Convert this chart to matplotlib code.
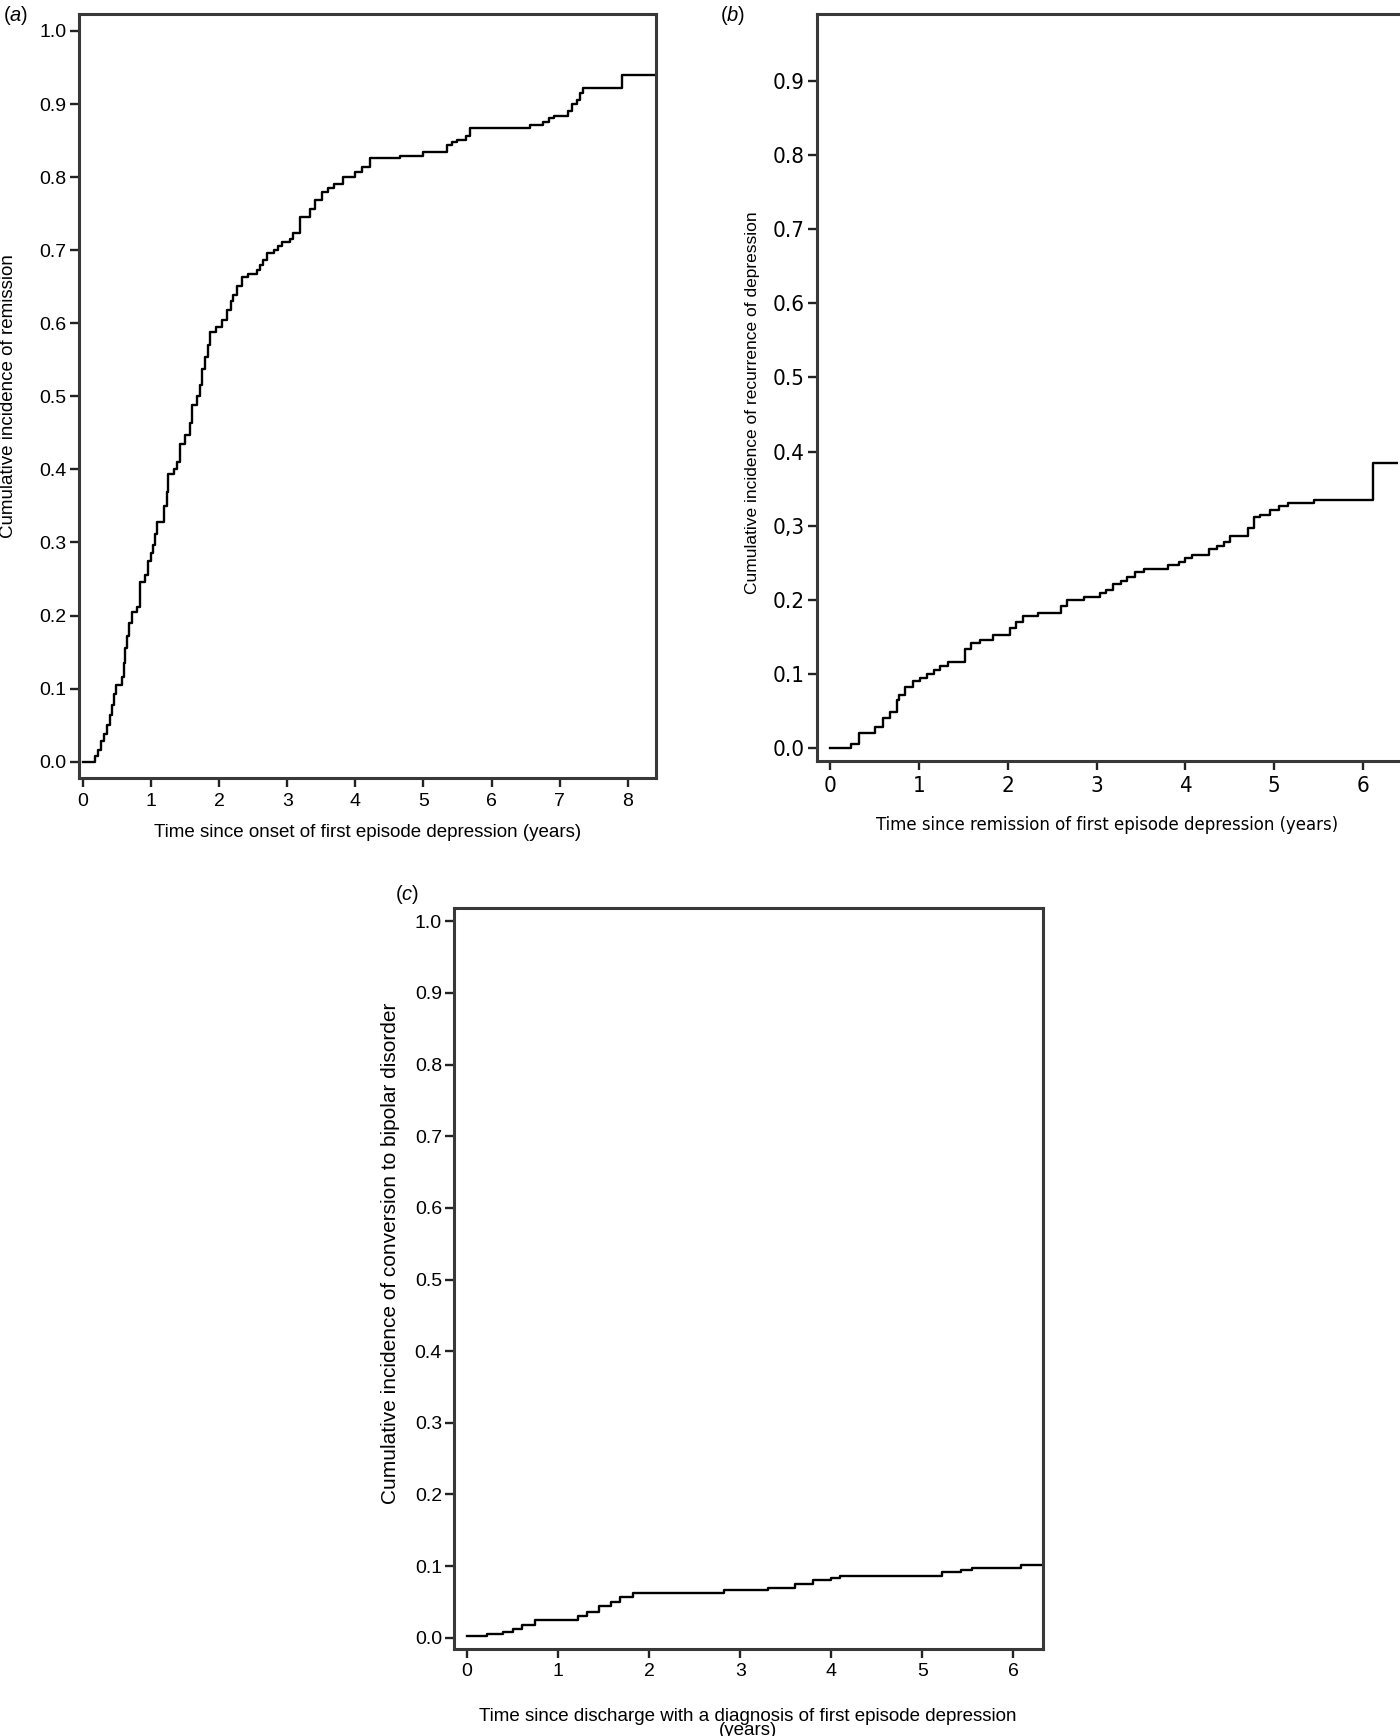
import matplotlib
matplotlib.use('Agg')
import matplotlib.pyplot as plt
from matplotlib import font_manager
from matplotlib.font_manager import FontProperties

# ── Panel (a): remission ──
a_time = [0.00, 0.17, 0.22, 0.27, 0.31, 0.35, 0.39, 0.42, 0.46, 0.49, 0.57, 0.60,
          0.62, 0.65, 0.67, 0.72, 0.79, 0.84, 0.91, 0.96, 1.00, 1.03, 1.06, 1.08,
          1.19, 1.23, 1.25, 1.33, 1.38, 1.42, 1.50, 1.57, 1.60, 1.67, 1.72, 1.75,
          1.79, 1.84, 1.86, 1.96, 2.04, 2.11, 2.17, 2.21, 2.26, 2.33, 2.43, 2.55,
          2.60, 2.65, 2.70, 2.80, 2.86, 2.92, 3.04, 3.09, 3.19, 3.33, 3.41, 3.51,
          3.60, 3.68, 3.82, 4.00, 4.10, 4.22, 4.66, 5.00, 5.34, 5.42, 5.49, 5.62,
          5.69, 6.57, 6.76, 6.84, 6.92, 7.12, 7.18, 7.25, 7.30, 7.35, 7.92, 8.45]
a_value = [0.000, 0.008, 0.016, 0.028, 0.038, 0.050, 0.064, 0.078, 0.092, 0.105, 0.116, 0.135,
           0.155, 0.172, 0.190, 0.205, 0.212, 0.246, 0.255, 0.274, 0.285, 0.297, 0.312, 0.328,
           0.350, 0.369, 0.394, 0.400, 0.410, 0.435, 0.447, 0.463, 0.488, 0.500, 0.515, 0.537,
           0.554, 0.570, 0.588, 0.595, 0.605, 0.618, 0.630, 0.638, 0.651, 0.663, 0.668, 0.673,
           0.680, 0.687, 0.696, 0.700, 0.706, 0.711, 0.715, 0.724, 0.746, 0.757, 0.769, 0.780,
           0.785, 0.790, 0.800, 0.807, 0.814, 0.826, 0.829, 0.834, 0.844, 0.848, 0.851, 0.856,
           0.867, 0.872, 0.876, 0.881, 0.884, 0.890, 0.900, 0.905, 0.915, 0.922, 0.940, 0.940]

# ── Panel (b): recurrence ──
b_time = [0.00, 0.24, 0.33, 0.50, 0.59, 0.68, 0.75, 0.78, 0.84, 0.93, 1.01, 1.09,
          1.17, 1.24, 1.33, 1.52, 1.59, 1.69, 1.83, 2.02, 2.09, 2.17, 2.34, 2.60,
          2.67, 2.86, 3.04, 3.11, 3.19, 3.27, 3.34, 3.43, 3.53, 3.80, 3.93, 3.99,
          4.07, 4.26, 4.35, 4.43, 4.50, 4.70, 4.77, 4.84, 4.95, 5.05, 5.15, 5.45,
          6.11, 6.45]
b_value = [0.000, 0.005, 0.020, 0.028, 0.041, 0.049, 0.065, 0.071, 0.082, 0.090, 0.095, 0.100,
           0.105, 0.111, 0.116, 0.133, 0.141, 0.145, 0.153, 0.162, 0.170, 0.178, 0.182, 0.191,
           0.200, 0.204, 0.209, 0.213, 0.221, 0.225, 0.230, 0.237, 0.242, 0.247, 0.251, 0.256,
           0.260, 0.268, 0.273, 0.278, 0.286, 0.297, 0.311, 0.315, 0.321, 0.326, 0.330, 0.335,
           0.385, 0.385]

# ── Panel (c): conversion to bipolar ──
c_time = [0.00, 0.22, 0.40, 0.50, 0.60, 0.75, 1.22, 1.32, 1.45, 1.58, 1.68, 1.82,
          2.82, 3.30, 3.60, 3.80, 4.00, 4.10, 5.22, 5.42, 5.55, 6.08, 6.35]
c_value = [0.003, 0.005, 0.008, 0.012, 0.018, 0.025, 0.030, 0.036, 0.044, 0.050, 0.057, 0.063,
           0.066, 0.070, 0.075, 0.080, 0.083, 0.086, 0.092, 0.095, 0.098, 0.102, 0.102]

a_yticks = [0.0, 0.1, 0.2, 0.3, 0.4, 0.5, 0.6, 0.7, 0.8, 0.9, 1.0]
a_ytick_labels = ['0.0', '0.1', '0.2', '0.3', '0.4', '0.5', '0.6', '0.7', '0.8', '0.9', '1.0']
b_yticks = [0.0, 0.1, 0.2, 0.3, 0.4, 0.5, 0.6, 0.7, 0.8, 0.9]
b_ytick_labels = ['0.0', '0.1', '0.2', '0,3', '0.4', '0.5', '0.6', '0.7', '0.8', '0.9']
a_xticks = [0, 1, 2, 3, 4, 5, 6, 7, 8]
bc_xticks = [0, 1, 2, 3, 4, 5, 6]

SANS = 'Liberation Sans'

# panel (b) uses a narrow face in the original; take one if the system has it
narrow_path = None
for f in font_manager.fontManager.ttflist:
    fn = f.fname.lower()
    if ('narrow' in fn or 'condensed' in fn) and 'bold' not in fn and 'oblique' not in fn \
            and 'italic' not in fn and 'mono' not in fn and 'serif' not in fn:
        if narrow_path is None or 'liberation' in fn:
            narrow_path = f.fname


def narrow_fp(size):
    if narrow_path:
        return FontProperties(fname=narrow_path, size=size)
    return FontProperties(family=SANS, size=size)


plt.rcParams.update({
    'font.family': [SANS, 'DejaVu Sans'],
    'mathtext.fontset': 'custom',
    'mathtext.rm': SANS,
    'mathtext.it': SANS + ':italic',
})

SPINE = '#383838'
TICK_FS = 14
LABEL_FS = 13.5

fig = plt.figure(figsize=(14, 17.36), dpi=100)

# axes rectangles in figure fractions
ax_a = fig.add_axes([0.0561, 0.5517, 0.4127, 0.4400])
ax_b = fig.add_axes([0.5834, 0.5615, 0.4150, 0.4302])
ax_c = fig.add_axes([0.3241, 0.0504, 0.4206, 0.4266])


def style(ax, narrow=False):
    for s in ax.spines.values():
        s.set_color(SPINE)
        s.set_linewidth(2.2)
    ax.tick_params(direction='out', length=6.5, width=1.7, color='#222222',
                   labelsize=TICK_FS, pad=2)
    ax.tick_params(axis='x', pad=4)
    if narrow:
        for lab in ax.get_xticklabels() + ax.get_yticklabels():
            lab.set_fontproperties(narrow_fp(TICK_FS + 2))


# (a)
ax_a.step(a_time, a_value, where='post', color='black', linewidth=1.7)
ax_a.set_xlim(-0.065, 8.42)
ax_a.set_ylim(-0.0227, 1.0227)
ax_a.set_xticks(a_xticks)
ax_a.set_yticks(a_yticks)
ax_a.set_yticklabels(a_ytick_labels)
style(ax_a)
ax_a.set_ylabel('Cumulative incidence of remission', fontsize=LABEL_FS)
ax_a.yaxis.set_label_coords(-0.121, 0.5)
ax_a.yaxis.label.set_va('center')
ax_a.set_xlabel('Time since onset of first episode depression (years)', fontsize=LABEL_FS)
ax_a.xaxis.set_label_coords(0.5, -0.071)
ax_a.xaxis.label.set_va('center')

# (b)
ax_b.step(b_time, b_value, where='post', color='black', linewidth=1.7)
ax_b.set_xlim(-0.15, 6.39)
ax_b.set_ylim(-0.018, 0.99)
ax_b.set_xticks(bc_xticks)
ax_b.set_yticks(b_yticks)
ax_b.set_yticklabels(b_ytick_labels)
style(ax_b, narrow=True)
ax_b.spines['right'].set_visible(False)
ax_b.set_ylabel('Cumulative incidence of recurrence of depression', fontsize=12.5)
ax_b.yaxis.set_label_coords(-0.110, 0.48)
ax_b.yaxis.label.set_va('center')
ax_b.set_xlabel('Time since remission of first episode depression (years)',
                fontproperties=narrow_fp(13.5 if narrow_path is None else 13.2))
ax_b.xaxis.set_label_coords(0.5, -0.086)
ax_b.xaxis.label.set_va('center')

# (c)
ax_c.step(c_time, c_value, where='post', color='black', linewidth=1.7)
ax_c.set_xlim(-0.146, 6.32)
ax_c.set_ylim(-0.015, 1.0186)
ax_c.set_xticks(bc_xticks)
ax_c.set_yticks(a_yticks)
ax_c.set_yticklabels(a_ytick_labels)
style(ax_c)
ax_c.set_ylabel('Cumulative incidence of conversion to bipolar disorder', fontsize=15)
ax_c.yaxis.set_label_coords(-0.107, 0.534)
ax_c.yaxis.label.set_va('center')
ax_c.set_xlabel('Time since discharge with a diagnosis of first episode depression\n(years)',
                fontsize=LABEL_FS, linespacing=0.8)
ax_c.xaxis.set_label_coords(0.5, -0.101)
ax_c.xaxis.label.set_va('center')

# panel letters
fig.text(0.0020, 0.9911, r'($\mathit{a}$)', fontsize=14.5, ha='left', va='center')
fig.text(0.5140, 0.9911, r'($\mathit{b}$)', fontsize=14.5, ha='left', va='center')
fig.text(0.2822, 0.4847, r'($\mathit{c}$)', fontsize=14.5, ha='left', va='center')

fig.savefig('out.png', dpi=100)
